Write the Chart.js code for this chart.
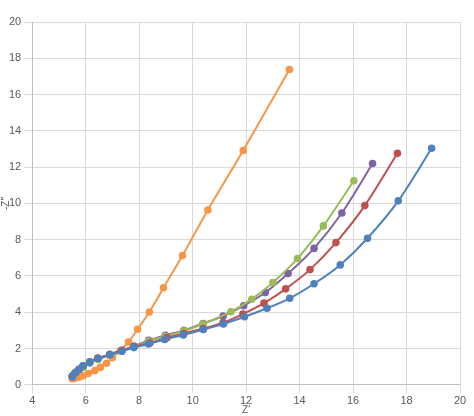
<!DOCTYPE html>
<html>
<head>
<meta charset="utf-8">
<script src="https://cdn.jsdelivr.net/npm/chart.js@4"></script>
<style>
  body { margin: 0; background: #fff; }
  #wrap { width: 474px; height: 416px; }
</style>
</head>
<body>
<div id="wrap"><canvas id="c"></canvas></div>
<script>
// Z' (x) and -Z'' (y) per series
const blueX = [5.5, 5.6, 5.75, 5.9, 6.15, 6.45, 6.9, 7.35, 7.8, 8.35, 8.95, 9.65, 10.4, 11.15, 11.94, 12.78, 13.63, 14.54, 15.52, 16.54, 17.69, 18.94];
const blueY = [0.45, 0.65, 0.85, 1.05, 1.25, 1.45, 1.65, 1.85, 2.05, 2.25, 2.5, 2.75, 3.05, 3.35, 3.75, 4.22, 4.77, 5.57, 6.61, 8.08, 10.14, 13.04];
const redX = [5.5, 5.6, 5.75, 5.9, 6.15, 6.45, 6.9, 7.35, 7.8, 8.4, 9.04, 9.67, 10.39, 11.14, 11.88, 12.67, 13.48, 14.39, 15.36, 16.44, 17.66];
const redY = [0.45, 0.65, 0.85, 1.05, 1.27, 1.47, 1.68, 1.9, 2.1, 2.3, 2.6, 2.83, 3.1, 3.43, 3.9, 4.5, 5.29, 6.35, 7.84, 9.88, 12.76];
const greenX = [5.5, 5.65, 5.9, 6.15, 6.46, 6.9, 7.35, 7.81, 8.35, 8.98, 9.67, 10.39, 11.43, 12.21, 13.0, 13.92, 14.89, 16.03];
const greenY = [0.5, 0.7, 0.97, 1.2, 1.4, 1.62, 1.85, 2.08, 2.4, 2.68, 2.97, 3.35, 4.03, 4.72, 5.64, 6.96, 8.76, 11.25];
const purpleX = [5.5, 5.65, 5.9, 6.15, 6.46, 6.9, 7.35, 7.81, 8.35, 8.98, 9.67, 10.39, 11.14, 11.91, 12.72, 13.57, 14.54, 15.58, 16.73];
const purpleY = [0.5, 0.7, 0.97, 1.21, 1.43, 1.67, 1.89, 2.13, 2.45, 2.73, 3.0, 3.38, 3.79, 4.36, 5.09, 6.13, 7.52, 9.47, 12.2];
const orangeX = [5.5, 5.6, 5.75, 5.9, 6.1, 6.34, 6.55, 6.78, 7.0, 7.28, 7.6, 7.94, 8.38, 8.91, 9.62, 10.57, 11.89, 13.62];
const orangeY = [0.33, 0.36, 0.42, 0.5, 0.62, 0.78, 0.96, 1.19, 1.49, 1.86, 2.36, 3.06, 4.01, 5.35, 7.13, 9.64, 12.92, 17.38];
const xTicks = [4, 6, 8, 10, 12, 14, 16, 18, 20];
const yTicks = [0, 2, 4, 6, 8, 10, 12, 14, 16, 18, 20];

const pts = (xs, ys) => xs.map((x, i) => ({ x: x, y: ys[i] }));
const series = (xs, ys, color) => ({
  data: pts(xs, ys),
  showLine: true,
  tension: 0.3,
  borderColor: color,
  backgroundColor: color,
  borderWidth: 2,
  pointRadius: 2.8
});

new Chart(document.getElementById("c"), {
  type: "scatter",
  data: {
    datasets: [
      series(blueX, blueY, "#4F81BD"),
      series(redX, redY, "#C0504D"),
      series(greenX, greenY, "#9BBB59"),
      series(purpleX, purpleY, "#8064A2"),
      series(orangeX, orangeY, "#F79646")
    ]
  },
  options: {
    responsive: true,
    maintainAspectRatio: false,
    animation: false,
    layout: { padding: { top: 22, right: 14, left: 0, bottom: 0 } },
    plugins: { legend: { display: false }, tooltip: { enabled: false } },
    scales: {
      x: {
        min: 4, max: 20,
        afterBuildTicks: (ax) => { ax.ticks = xTicks.map(v => ({ value: v })); },
        grid: { color: "#d9d9d9" },
        border: { color: "#bfbfbf" },
        ticks: { color: "#595959", padding: 2, font: { family: "Liberation Sans", size: 11 } },
        title: { display: true, text: "Z'", color: "#595959", font: { family: "Liberation Sans", size: 10 }, padding: { top: -6, bottom: 0 } }
      },
      y: {
        min: 0, max: 20,
        afterBuildTicks: (ax) => { ax.ticks = yTicks.map(v => ({ value: v })); },
        grid: { color: "#d9d9d9" },
        border: { color: "#bfbfbf" },
        ticks: { color: "#595959", font: { family: "Liberation Sans", size: 11 } },
        title: { display: true, text: "-Z''", color: "#595959", font: { family: "Liberation Sans", size: 10 }, padding: { top: 0, bottom: -6 } }
      }
    }
  }
});
</script>
</body>
</html>
